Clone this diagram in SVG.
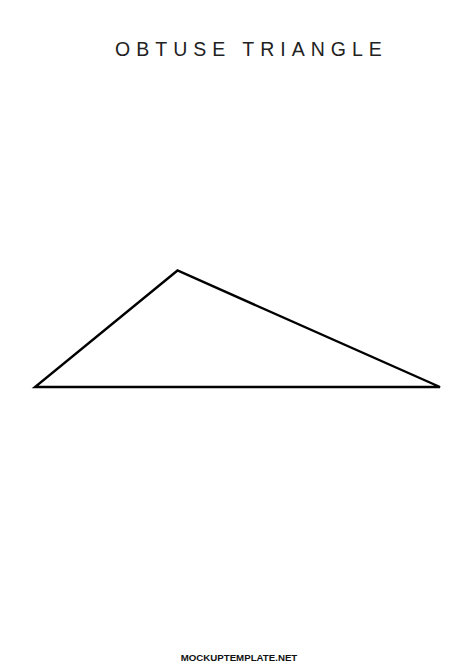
<svg xmlns="http://www.w3.org/2000/svg" width="474" height="669" viewBox="0 0 474 669">
<style>
.title{font-family:"Liberation Sans",Arial,sans-serif;font-size:19.5px;letter-spacing:6px;fill:#222}
.foot{font-family:"Liberation Sans",Arial,sans-serif;font-size:9.7px;font-weight:bold;fill:#111}
.tri{fill:#fff;stroke:#000;stroke-width:2.4;stroke-linejoin:miter}
</style>
<rect width="474" height="669" fill="#fff"/>
<text class="title" x="251.5" y="56" text-anchor="middle">OBTUSE TRIANGLE</text>
<g id="triangle">
<polygon class="tri" points="177.5,270.5 35,387 440,387"/>
</g>
<text class="foot" x="239" y="661" text-anchor="middle">MOCKUPTEMPLATE.NET</text>
</svg>
